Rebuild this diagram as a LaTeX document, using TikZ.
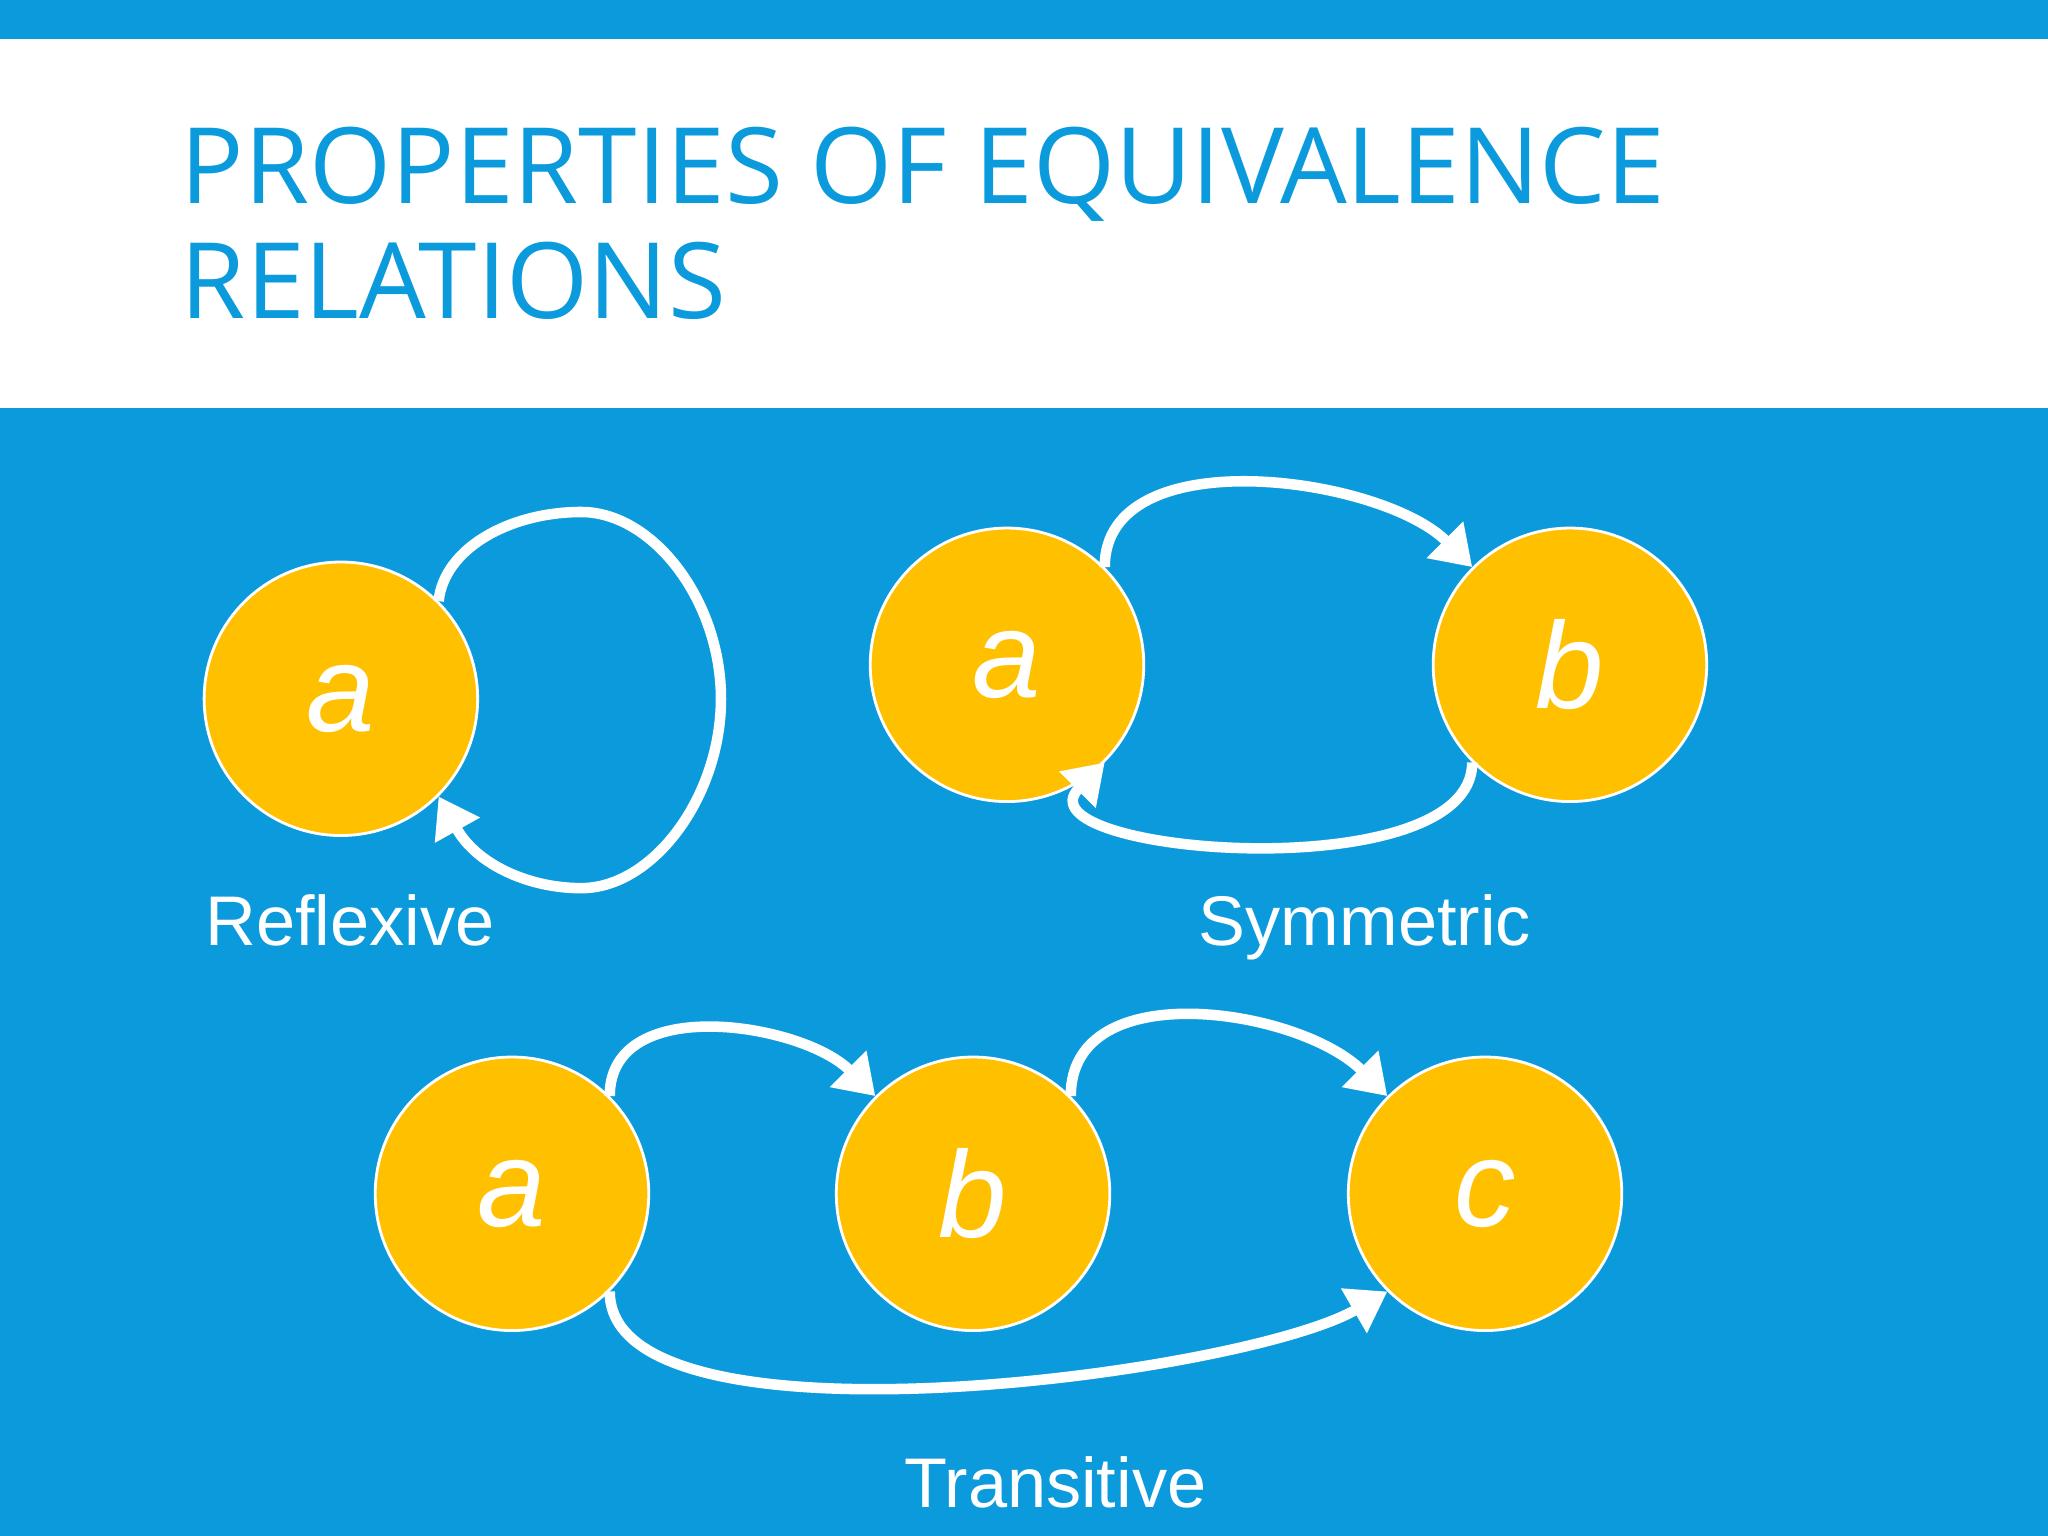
\documentclass[tikz,border=0pt]{standalone}
\usepackage{fontspec}
\setmainfont{Liberation Sans}
\newfontfamily\titlefont{Open Sans}
\usetikzlibrary{arrows.meta}
\definecolor{bgblue}{HTML}{0B9BDC}
\definecolor{gold}{HTML}{FFC000}
\tikzset{
 circ/.style={circle,fill=gold,draw=white,line width=0.8pt,minimum size=210*0.3706pt,inner sep=0pt,text=white,font=\fontsize{35}{40}\selectfont\itshape},
 rel/.style={draw=white,line width=3pt,-{Triangle[length=11pt,width=14pt]}},
 lab/.style={text=white,font=\fontsize{20}{24}\selectfont},
}
\begin{document}
\begin{tikzpicture}[x=0.013061cm,y=-0.013061cm]
\useasboundingbox (0,0) rectangle (1568,1176);
\fill[bgblue] (0,0) rectangle (1568,30);
\fill[bgblue] (0,312) rectangle (1568,1176);
\node[anchor=base west,text=bgblue,font=\titlefont\fontsize{30}{36}\selectfont,inner sep=0pt] (t1) at (138,156) {PROPERTIES OF EQUIVALENCE};
\node[anchor=base west,text=bgblue,font=\titlefont\fontsize{30}{36}\selectfont,inner sep=0pt] (t2) at (138,244) {RELATIONS};
% reflexive
\node[circ] (ra) at (261,535) {a};
\coordinate (r1) at (445,392);
\coordinate (r2) at (552,535);
\coordinate (r3) at (445,680);
\draw[rel] (ra.45) .. controls (340,420) and (390,392) .. (r1) .. controls (500,392) and (552,460) .. (r2) .. controls (552,610) and (500,680) .. (r3) .. controls (405,680) and (365,662) .. (ra.-45);
\node[lab,anchor=base] (lr) at (268,724) {Reflexive};
% symmetric
\node[circ] (sa) at (771,509) {a};
\node[circ] (sb) at (1202,509) {b};
\draw[rel] (sa.45) to[out=90,in=135,looseness=0.9] (sb.135);
\draw[rel] (sb.-135) to[out=-90,in=-135,looseness=0.9] (sa.-45);
\node[lab,anchor=base] (ls) at (1045,724) {Symmetric};
% transitive
\node[circ] (ta) at (392,914) {a};
\node[circ] (tb) at (745,914) {b};
\node[circ] (tc) at (1137,914) {c};
\draw[rel] (ta.45) to[out=90,in=135,looseness=1] (tb.135);
\draw[rel] (tb.45) to[out=90,in=135,looseness=1] (tc.135);
\draw[rel] (ta.-45) to[out=-90,in=-150,looseness=0.55] (tc.-135);
\node[lab,anchor=base] (lt) at (808,1154) {Transitive};
\end{tikzpicture}
\end{document}
